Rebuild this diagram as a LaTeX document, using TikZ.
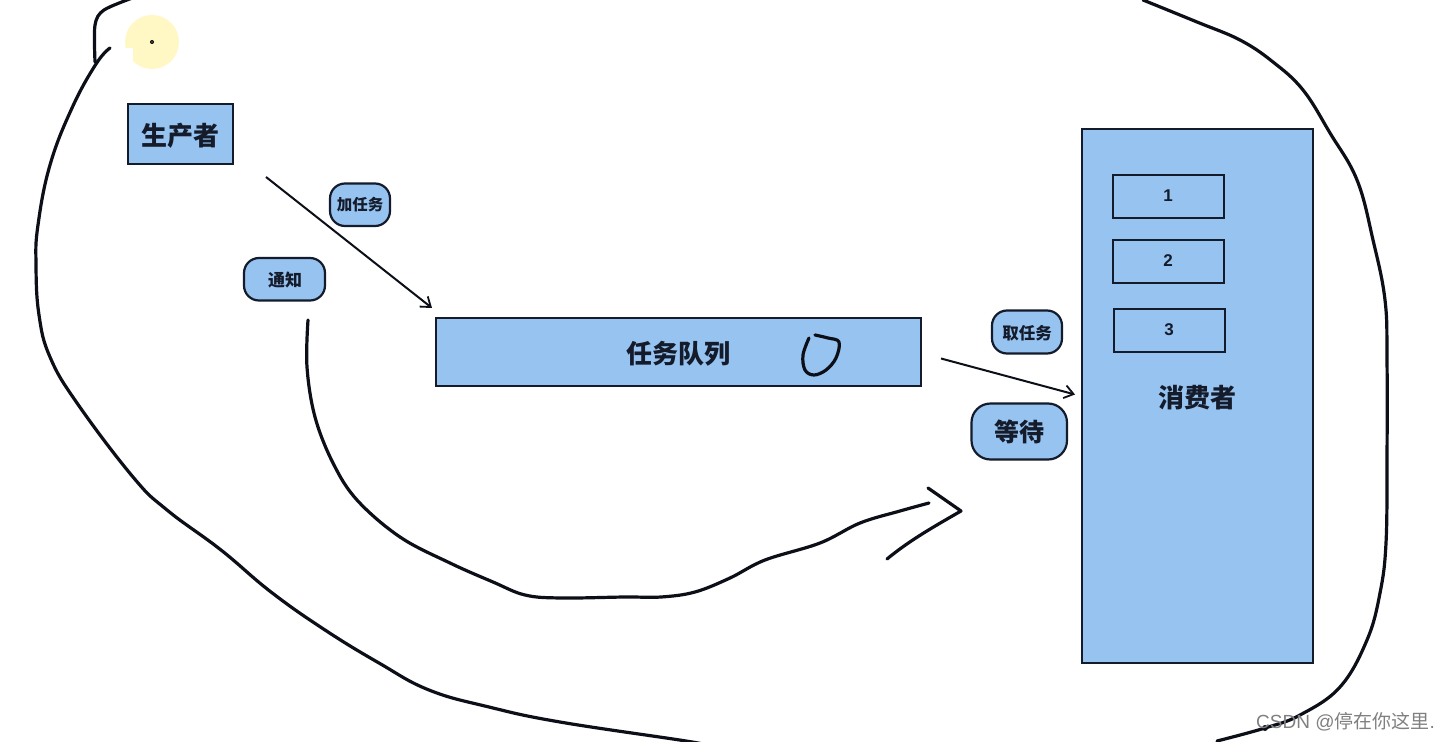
\documentclass[tikz,border=0pt]{standalone}
\usepackage{fontspec}
\setmainfont{Liberation Sans}
\newfontfamily\cjk{Noto Sans CJK SC}
\newfontfamily\cjkb{Noto Sans CJK SC Black}
\usetikzlibrary{arrows.meta}
\definecolor{boxblue}{HTML}{97C3F0}
\definecolor{ink}{HTML}{141B2B}
\definecolor{glow}{HTML}{FFF8C4}
\definecolor{pencil}{HTML}{0C0F18}
\tikzset{
  x=1pt,y=-1pt,
  sqbox/.style={draw=ink,line width=2pt,fill=boxblue},
  pill/.style={draw=ink,line width=2.2pt,fill=boxblue,rounded corners=15pt},
  lbl/.style={font=\cjkb\fontsize{#1}{#1}\selectfont,text=ink},
  numlbl/.style={font=\bfseries\fontsize{17pt}{17pt}\selectfont,text=ink},
  thinline/.style={draw=pencil,line width=2pt,-{Straight Barb[length=9pt,width=13pt,line width=1.8pt]}},
  pen/.style={draw=pencil,line width=3.2pt,line cap=round,line join=round},
}
\begin{document}
\begin{tikzpicture}
\useasboundingbox (0,0) rectangle (1447,741);
\clip (0,0) rectangle (1447,741);
\fill[white] (0,0) rectangle (1447,741);
% highlight of the pointer
\fill[glow] (152,42) circle (27pt);
\fill[white] (120,48) -- (133,48) -- (133,63) -- (120,63) -- cycle;
\fill[black] (152,42) circle (2pt);
\fill[white] (152,42) circle (.6pt);
% boxes
\path[sqbox] (128,104) rectangle (233,164);
\node[lbl=26pt] (prod) at (180.5,136) {生产者};
\path[sqbox] (436,318) rectangle (921,386);
\node[lbl=26pt] (queue) at (678.5,354) {任务队列};
\path[sqbox] (1082,129) rectangle (1313,663);
\node[lbl=26pt] (cons) at (1197.5,398) {消费者};
\path[sqbox] (1113,174.5) rectangle (1224,217.5);
\node[numlbl] (w1) at (1168,195.5) {1};
\path[sqbox] (1113,240) rectangle (1224,283);
\node[numlbl] (w2) at (1168,260.5) {2};
\path[sqbox] (1114,308.5) rectangle (1224.5,351.5);
\node[numlbl] (w3) at (1169,329.5) {3};
% pills
\path[pill] (330,183.5) rectangle (390,226);
\node[lbl=15.5pt] (add) at (360,205) {加任务};
\path[pill] (244,258) rectangle (325,300.5);
\node[lbl=17pt] (notify) at (285,280) {通知};
\path[pill] (992,310.5) rectangle (1062,353.5);
\node[lbl=16.5pt] (take) at (1027,333) {取任务};
\path[pill,rounded corners=19pt] (971.5,403.5) rectangle (1067,459.5);
\node[lbl=25pt] (wait) at (1019,432) {等待};
% straight arrows
\coordinate (a1) at (266,177);
\coordinate (a2) at (432,308);
\coordinate (b1) at (941,358.5);
\coordinate (b2) at (1075,394.5);
\draw[thinline] (a1) -- (a2);
\draw[thinline] (b1) -- (b2);
% hand-drawn strokes
\draw[pen] plot[smooth,tension=.6] coordinates {(308,320) (307,367) (315,417) (333,463) (357,500) (400,537) (450,563) (493,582) (525,595) (561,598) (625,597) (661,597) (695,592) (730,578) (765,560) (820,543) (860,523) (900,511) (929,503)};
\draw[pen] (928,488) -- (961,511) .. controls (935,526) and (910,540) .. (887,559);
\draw[pen] plot[smooth,tension=.6] coordinates {(815,335) (828,338) (839,342) (836,358) (826,370) (814,375) (805,370) (803,355) (809,338)};
\draw[pen] plot[smooth,tension=.7] coordinates {(110,48) (96,64) (72,108) (50,165) (38,225) (36,265) (39,315) (50,357) (77,403) (133,477) (167,510) (221,550) (271,592) (325,630) (379,663) (429,690) (489,707) (560,722) (686,741) (710,746)};
\draw[pen] plot[smooth,tension=.5] coordinates {(95,62) (95,25) (104,10) (135,-3)};
\draw[pen] plot[smooth,tension=.65] coordinates {(1143,0) (1197,22) (1240,40) (1273,62) (1303,90) (1330,133) (1357,180) (1373,240) (1385,300) (1387,360) (1387,460) (1386,543) (1380,593) (1367,640) (1340,687) (1300,715) (1265,728) (1217,741)};
\fill[pencil] (1265,728) circle (3pt);
% watermark
\node[anchor=west,inner sep=0pt,text=black!50,font=\fontsize{19pt}{19pt}\selectfont] (mark) at (1256,722) {CSDN @{\cjk 停在你这里}.};
\end{tikzpicture}
\end{document}
